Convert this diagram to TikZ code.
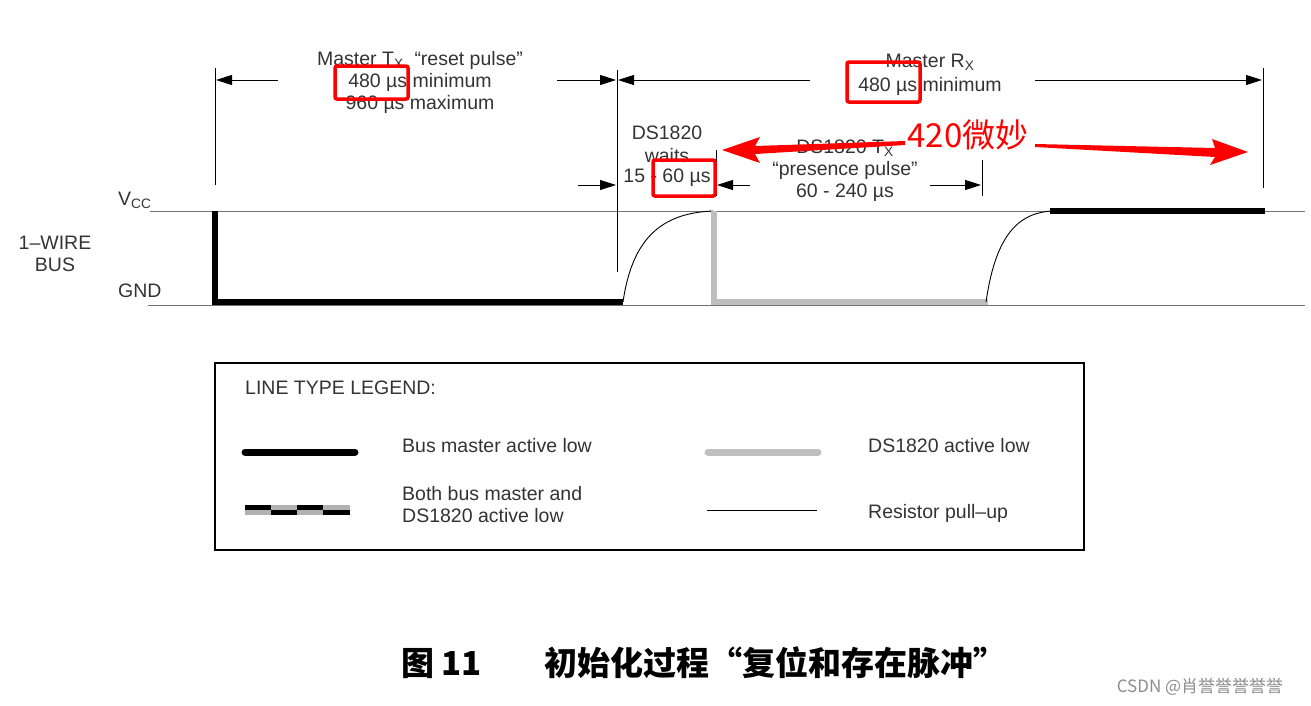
\documentclass[tikz,border=0pt]{standalone}
\usepackage{fontspec}
\setmainfont{Liberation Sans}
\newfontfamily\cjk{Noto Sans CJK SC}
\usetikzlibrary{arrows.meta}
\begin{document}
\begin{tikzpicture}[x=1pt,y=-1pt,
  lbl/.style={font=\fontsize{19.5}{22}\selectfont,text=black!80,inner sep=0pt},
  thin/.style={line width=0.9pt},
  rail/.style={line width=0.7pt,black!55},
  master/.style={line width=6pt},
  slave/.style={line width=6pt,black!25},
  dimr/.style={line width=0.9pt,-{Triangle[length=16pt,width=10pt]}},
  redbox/.style={draw=red,line width=3.5pt,rounded corners=2pt}]
\useasboundingbox (0,0) rectangle (1311,705);
% rails
\draw[rail] (150,211) -- (1305,211);
\draw[rail] (148,305) -- (1305,305);
\node[lbl,anchor=west] (vcc) at (118,200) {V\textsubscript{CC}};
\node[lbl,align=center] (bus) at (55,254) {1–WIRE\\BUS};
\node[lbl,anchor=west] (gnd) at (118,291) {GND};
% waveform
\draw[master,line cap=butt] (215,211) -- (215,302) -- (623,302);
\draw[thin] (623,302) .. controls (632,240) and (660,213) .. (713,211);
\draw[slave] (714,211) -- (714,302) -- (988,302);
\draw[thin] (986,302) .. controls (995,240) and (1015,213) .. (1052,211);
\draw[master] (1050,211) -- (1265,211);
% verticals
\draw[thin] (215,68) -- (215,185);
\draw[thin] (617,70) -- (617,272);
\draw[thin] (716,150) -- (716,196);
\draw[thin] (982,160) -- (982,196);
\draw[thin] (1263,68) -- (1263,188);
% dimension arrows
\coordinate (a1) at (278,80); \coordinate (a1t) at (216,80);
\coordinate (a2) at (557,80); \coordinate (a2t) at (616,80);
\coordinate (a3) at (810,80); \coordinate (a3t) at (618,80);
\coordinate (a4) at (1035,80); \coordinate (a4t) at (1262,80);
\draw[dimr] (a1) -- (a1t); \draw[dimr] (a2) -- (a2t);
\draw[dimr] (a3) -- (a3t); \draw[dimr] (a4) -- (a4t);
\coordinate (b1) at (578,185); \coordinate (b1t) at (616,185);
\coordinate (b2) at (750,185); \coordinate (b2t) at (717,185);
\coordinate (b3) at (930,185); \coordinate (b3t) at (981,185);
\draw[dimr] (b1) -- (b1t); \draw[dimr] (b2) -- (b2t); \draw[dimr] (b3) -- (b3t);
% labels
\node[lbl] (t1) at (420,60) {Master T\textsubscript{X}\ \ “reset pulse”};
\node[lbl] (t2) at (420,82) {480 µs minimum};
\node[lbl] (t3) at (420,104) {960 µs maximum};
\node[lbl] (r1) at (930,62) {Master R\textsubscript{X}};
\node[lbl] (r2) at (930,86) {480 µs minimum};
\node[lbl] (w1) at (667,133) {DS1820};
\node[lbl] (w2) at (667,156) {waits};
\node[lbl] (w3) at (667,178) {15 - 60 µs};
\node[lbl] (p1) at (845,148) {DS1820 T\textsubscript{X}};
\node[lbl] (p2) at (845,170) {“presence pulse”};
\node[lbl] (p3) at (845,193) {60 - 240 µs};
% red annotations
\draw[redbox] (335,66) rectangle (408,99);
\draw[redbox] (847,62) rectangle (920,102);
\draw[redbox] (653,160) rectangle (715,196);
\fill[red] (722,150) -- (760,137) -- (755,146) -- (905,141) -- (905,145) -- (755,154) -- (760,163) -- cycle;
\fill[red] (1248,152) -- (1212,139) -- (1215,148) -- (1035,144) -- (1035,147) -- (1215,157) -- (1210,165) -- cycle;
\node[font=\cjk\fontsize{33}{35}\selectfont,text=red,inner sep=0pt] (ann) at (968,135) {420微妙};
% legend
\draw[line width=2pt] (215,363) rectangle (1084,550);
\node[lbl,anchor=west] (lg) at (245,388) {LINE TYPE LEGEND:};
\draw[line width=7pt,line cap=round] (245,452) -- (355,452);
\draw[line width=7pt,line cap=round,black!25] (708,452) -- (818,452);
\foreach \x/\t/\b in {245/black/black!30,271/black!30/black,297/black/black!30,323/black!30/black} {
  \fill[\t] (\x,505) rectangle ++(27,5);
  \fill[\b] (\x,510) rectangle ++(27,5);
}
\draw[thin] (707,510) -- (817,510);
\node[lbl,anchor=west] (l1) at (402,446) {Bus master active low};
\node[lbl,anchor=west,align=left] (l2) at (402,505) {Both bus master and\\DS1820 active low};
\node[lbl,anchor=west] (l3) at (868,446) {DS1820 active low};
\node[lbl,anchor=west] (l4) at (868,513) {Resistor pull–up};
% caption
\node[font=\cjk\bfseries\fontsize{33}{35}\selectfont,inner sep=0pt] (cap) at (704,663) {图 11\hspace{1.9em}初始化过程“复位和存在脉冲”};
\node[font=\cjk\fontsize{17}{19}\selectfont,text=black!45,inner sep=0pt] (wm) at (1200,687) {CSDN @肖誉誉誉誉誉};
\end{tikzpicture}
\end{document}
